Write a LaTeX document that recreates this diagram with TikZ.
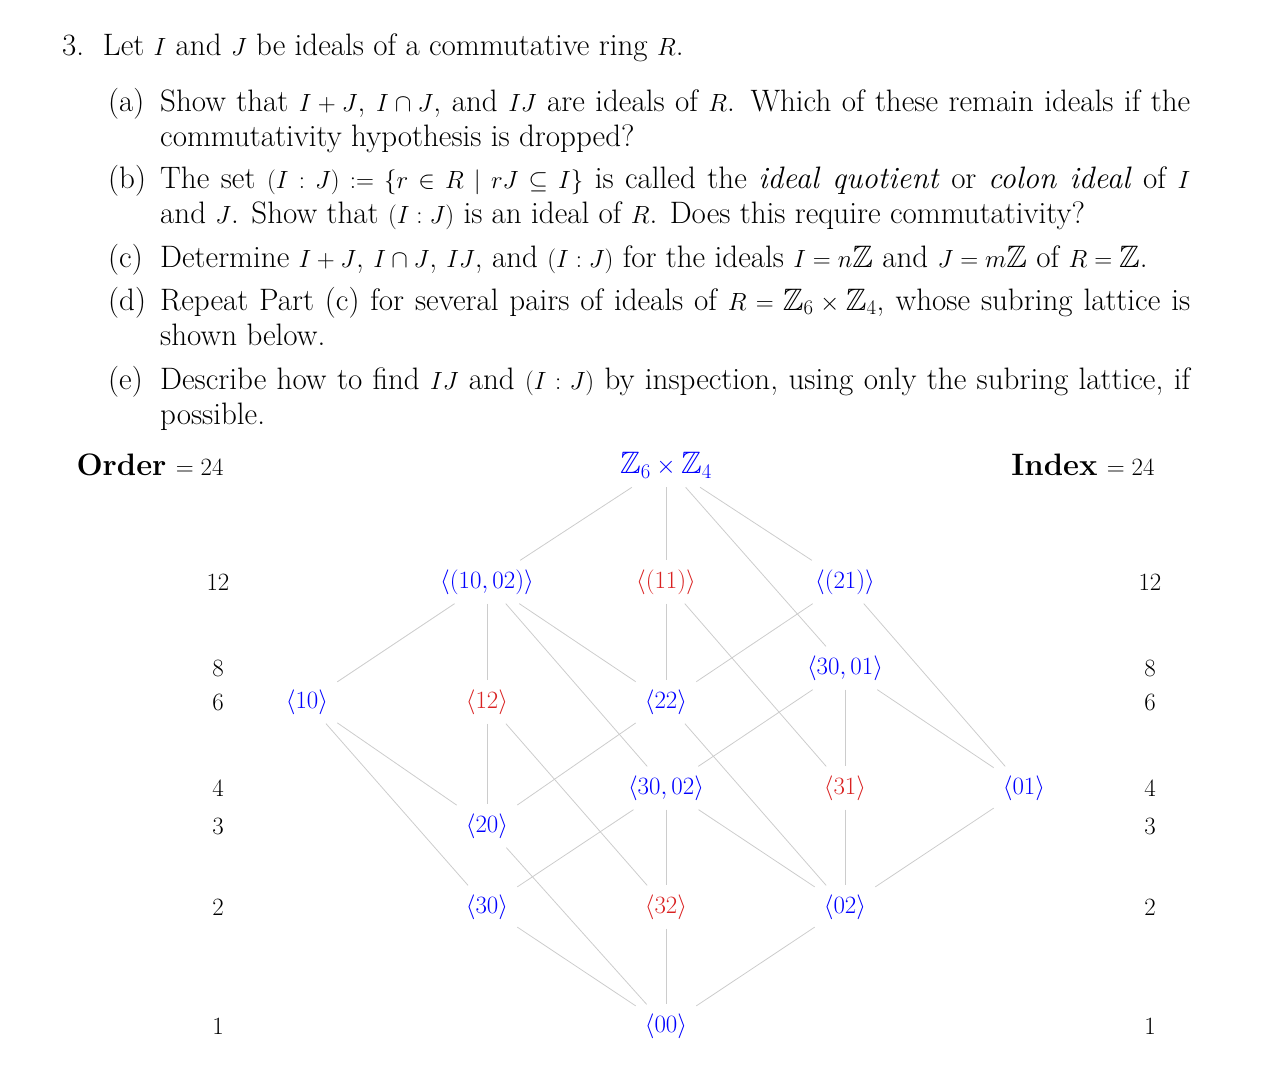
\documentclass[tikz,border=0pt]{standalone}
\usepackage{amsmath,amssymb}
\definecolor{myred}{rgb}{0.85,0.13,0.13}
\begin{document}
\begin{tikzpicture}[x=1pt,y=-1pt,
  txt/.style={font=\fontsize{31}{35}\selectfont, inner sep=0pt},
  body/.style={txt, anchor=base west, text width=1030pt, align=justify},
  b/.style={font=\fontsize{31}{35}\selectfont, text=blue, inner sep=9pt},
  r/.style={font=\fontsize{31}{35}\selectfont, text=myred, inner sep=9pt},
  k/.style={font=\fontsize{31}{35}\selectfont, inner sep=0pt},
  e/.style={draw=black!20, line width=0.8pt}]
\useasboundingbox (0,0) rectangle (1269,1080);
\node[txt, anchor=base west] (n3) at (62,55) {3.\ \ Let $I$ and $J$ be ideals of a commutative ring $R$.};
\node[txt, anchor=base west] (la) at (108,111) {(a)};
\node[body] (ba) at (160,111) {Show that $I+J$, $I\cap J$, and $IJ$ are ideals of $R$. Which of these remain ideals if the\linebreak commutativity hypothesis is dropped?};
\node[txt, anchor=base west] (lb) at (108,188) {(b)};
\node[body] (bb) at (160,188) {The set $(I:J):=\{r\in R\mid rJ\subseteq I\}$ is called the \emph{ideal quotient} or \emph{colon ideal} of $I$\linebreak and $J$. Show that $(I:J)$ is an ideal of $R$. Does this require commutativity?};
\node[txt, anchor=base west] (lc) at (108,267) {(c)};
\node[body] (bc) at (160,267) {Determine $I+J$, $I\cap J$, $IJ$, and $(I:J)$ for the ideals $I=n\mathbb{Z}$ and $J=m\mathbb{Z}$ of $R=\mathbb{Z}$.};
\node[txt, anchor=base west] (ld) at (108,310) {(d)};
\node[body] (bd) at (160,310) {Repeat Part (c) for several pairs of ideals of $R=\mathbb{Z}_6\times\mathbb{Z}_4$, whose subring lattice is\linebreak shown below.};
\node[txt, anchor=base west] (le) at (108,389) {(e)};
\node[body] (be) at (160,389) {Describe how to find $IJ$ and $(I:J)$ by inspection, using only the subring lattice, if\linebreak possible.};

\node[k] (ord) at (150,465) {\textbf{Order} $=24$};
\node[k] (ind) at (1083,465) {\textbf{Index} $=24$};
\foreach \y/\l/\rr in {582/12/12,668/8/8,702/6/6,788/4/4,826/3/3,907/2/2,1026/1/1}{
  \node[k] at (218,\y) {$\l$};
  \node[k] at (1150,\y) {$\rr$};
}

\node[b] (top) at (666,465) {$\mathbb{Z}_6\times\mathbb{Z}_4$};
\node[b] (a1002) at (487,582) {$\langle(10,02)\rangle$};
\node[r] (a11) at (666,582) {$\langle(11)\rangle$};
\node[b] (a21) at (845,582) {$\langle(21)\rangle$};
\node[b] (a3001) at (845,668) {$\langle 30,01\rangle$};
\node[b] (a10) at (307,702) {$\langle 10\rangle$};
\node[r] (a12) at (487,702) {$\langle 12\rangle$};
\node[b] (a22) at (666,702) {$\langle 22\rangle$};
\node[b] (a3002) at (666,788) {$\langle 30,02\rangle$};
\node[r] (a31) at (845,788) {$\langle 31\rangle$};
\node[b] (a01) at (1024,788) {$\langle 01\rangle$};
\node[b] (a20) at (487,826) {$\langle 20\rangle$};
\node[b] (a30) at (487,907) {$\langle 30\rangle$};
\node[r] (a32) at (666,907) {$\langle 32\rangle$};
\node[b] (a02) at (845,907) {$\langle 02\rangle$};
\node[b] (a00) at (666,1026) {$\langle 00\rangle$};

\foreach \u/\v in {top/a1002,top/a11,top/a21,top/a3001,
  a1002/a10,a1002/a12,a1002/a3002,a1002/a22,
  a11/a22,a11/a31,a21/a22,a21/a01,
  a3001/a3002,a3001/a31,a3001/a01,
  a10/a20,a10/a30,a12/a20,a12/a32,a22/a20,a22/a02,
  a3002/a30,a3002/a32,a3002/a02,a31/a02,a01/a02,
  a20/a00,a30/a00,a32/a00,a02/a00}
  \draw[e] (\u) -- (\v);
\end{tikzpicture}
\end{document}
